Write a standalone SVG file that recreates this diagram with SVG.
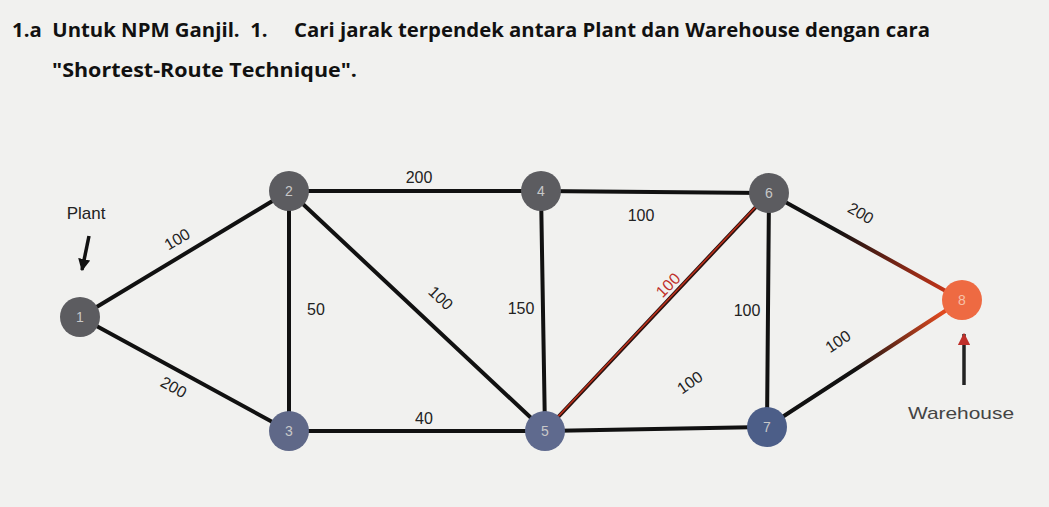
<svg xmlns="http://www.w3.org/2000/svg" width="1049" height="507" viewBox="0 0 1049 507">
<style>
.t{font-family:"Open Sans","Noto Sans",sans-serif;font-weight:bold;font-size:19px;fill:#111;white-space:pre}
.e{stroke-width:4;stroke-linecap:round;fill:none}
.l{font-family:"Liberation Sans",Arial,sans-serif;font-size:16px;fill:#222}
.n{stroke:none}
.nt{font-family:"Liberation Sans",Arial,sans-serif;font-size:14px;fill:#c8c8c8;text-anchor:middle}
</style>
<defs>
<linearGradient id="g68" gradientUnits="userSpaceOnUse" x1="769" y1="193" x2="962" y2="300"><stop offset="0.35" stop-color="#111"/><stop offset="1" stop-color="#e03a1a"/></linearGradient>
<linearGradient id="g78" gradientUnits="userSpaceOnUse" x1="767" y1="427" x2="962" y2="300"><stop offset="0.45" stop-color="#111"/><stop offset="0.9" stop-color="#e04a20"/></linearGradient>
<marker id="ah" viewBox="0 0 10 10" refX="9" refY="5" markerWidth="3.5" markerHeight="3.5" orient="auto"><path d="M0,0L10,5L0,10z" fill="#111"/></marker>
<marker id="ahr" viewBox="0 0 10 10" refX="9" refY="5" markerWidth="3.5" markerHeight="3.5" orient="auto"><path d="M0,0L10,5L0,10z" fill="#c0302a"/></marker>
</defs>
<rect width="1049" height="507" fill="#f1f1ef"/>
<text class="t" x="12" y="37" xml:space="preserve" textLength="918" lengthAdjust="spacingAndGlyphs">1.a  Untuk NPM Ganjil.  1.     Cari jarak terpendek antara Plant dan Warehouse dengan cara</text>
<text class="t" x="52" y="77" textLength="305" lengthAdjust="spacingAndGlyphs">"Shortest-Route Technique".</text>
<g id="connectors" stroke="#111">
<line class="e" x1="80" y1="317" x2="289" y2="191"/>
<line class="e" x1="80" y1="317" x2="289" y2="431"/>
<line class="e" x1="289" y1="191" x2="541" y2="191"/>
<line class="e" x1="289" y1="191" x2="289" y2="431"/>
<line class="e" x1="289" y1="191" x2="545" y2="431"/>
<line class="e" x1="289" y1="431" x2="545" y2="431"/>
<line class="e" x1="541" y1="191" x2="769" y2="193"/>
<line class="e" x1="541" y1="191" x2="545" y2="431"/>
<line class="e" x1="545" y1="431" x2="769" y2="193" style="stroke:#2a1210"/>
<line x1="552" y1="423" x2="762" y2="200" style="stroke:#c0301a;stroke-width:1.5"/>
<line class="e" x1="545" y1="431" x2="767" y2="427"/>
<line class="e" x1="769" y1="193" x2="767" y2="427"/>
<line class="e" x1="769" y1="193" x2="962" y2="300" style="stroke:url(#g68)"/>
<line class="e" x1="767" y1="427" x2="962" y2="300" style="stroke:url(#g78)"/>
<line x1="89" y1="236" x2="82" y2="270" stroke-width="3.5" marker-end="url(#ah)"/>
<line x1="964" y1="385" x2="964" y2="334" style="stroke:#222" stroke-width="3.5" marker-end="url(#ahr)"/>
</g>
<g id="labels">
<text class="l" transform="translate(180,244) rotate(-31)" text-anchor="middle">100</text>
<text class="l" transform="translate(171,392) rotate(29)" text-anchor="middle">200</text>
<text class="l" x="419" y="183" text-anchor="middle">200</text>
<text class="l" x="316" y="315" text-anchor="middle">50</text>
<text class="l" transform="translate(437,302) rotate(43)" text-anchor="middle">100</text>
<text class="l" x="521" y="314" text-anchor="middle">150</text>
<text class="l" x="424" y="424" text-anchor="middle">40</text>
<text class="l" x="641" y="221" text-anchor="middle">100</text>
<text class="l" transform="translate(672,289) rotate(-45)" text-anchor="middle" style="fill:#c0302a">100</text>
<text class="l" x="747" y="316" text-anchor="middle">100</text>
<text class="l" transform="translate(693,387) rotate(-35)" text-anchor="middle">100</text>
<text class="l" transform="translate(841,346) rotate(-34)" text-anchor="middle">100</text>
<text class="l" transform="translate(858,218) rotate(30)" text-anchor="middle">200</text>
<text class="l" x="86" y="219" text-anchor="middle" style="font-size:17px">Plant</text>
<text class="l" x="961" y="419" text-anchor="middle" style="fill:#444;font-size:17px" textLength="106" lengthAdjust="spacingAndGlyphs">Warehouse</text>
</g>
<g id="node1"><circle class="n" cx="80" cy="317" r="20" fill="#5c5c60"/><text class="nt" x="80" y="322">1</text></g>
<g id="node2"><circle class="n" cx="289" cy="191" r="20" fill="#5c5c60"/><text class="nt" x="289" y="196">2</text></g>
<g id="node3"><circle class="n" cx="289" cy="431" r="20" fill="#5f6888"/><text class="nt" x="289" y="436">3</text></g>
<g id="node4"><circle class="n" cx="541" cy="191" r="20" fill="#5c5c60"/><text class="nt" x="541" y="196">4</text></g>
<g id="node5"><circle class="n" cx="545" cy="431" r="20" fill="#5f6a8e"/><text class="nt" x="545" y="436">5</text></g>
<g id="node6"><circle class="n" cx="769" cy="193" r="20" fill="#5c5c60"/><text class="nt" x="769" y="198">6</text></g>
<g id="node7"><circle class="n" cx="767" cy="427" r="20" fill="#4c5e88"/><text class="nt" x="767" y="432">7</text></g>
<g id="node8"><circle class="n" cx="962" cy="300" r="20" fill="#ee6a42"/><text class="nt" x="962" y="305" style="fill:#f5c0a8">8</text></g>
</svg>
